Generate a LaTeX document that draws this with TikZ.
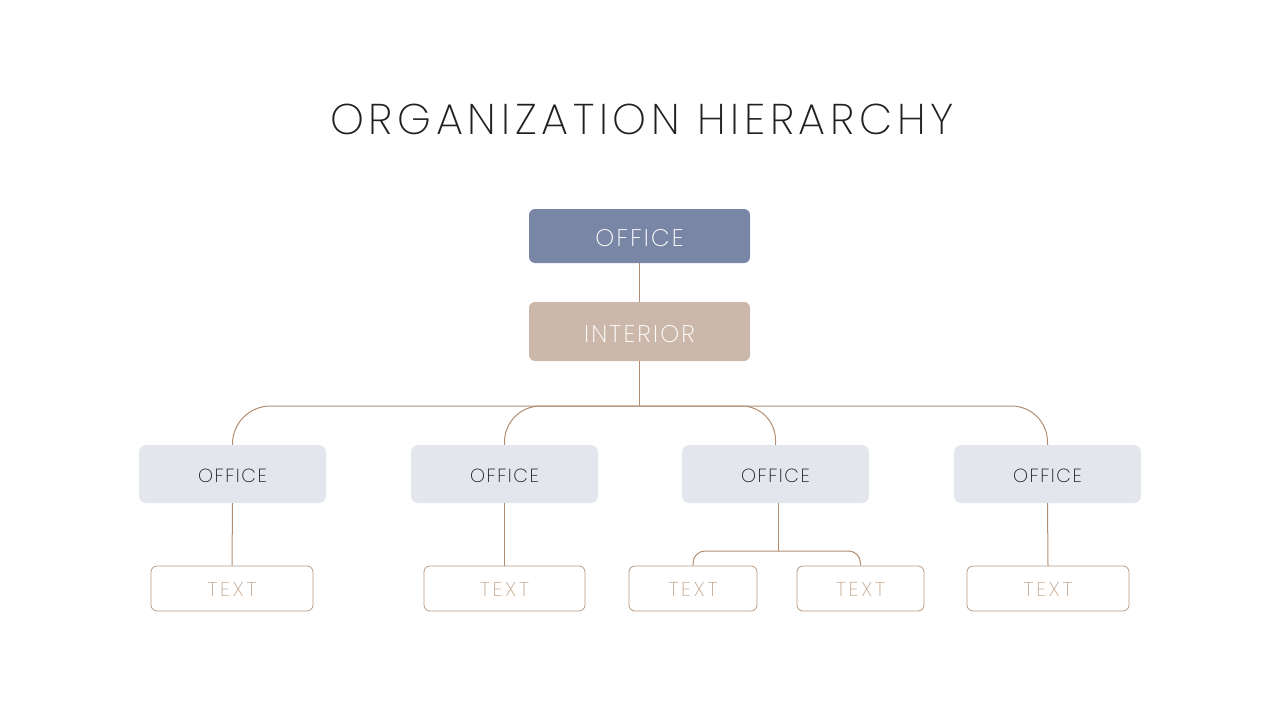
\documentclass[tikz,border=0pt]{standalone}
\usepackage{fontspec}
\setmainfont{Poppins Light}
\newfontfamily\titlefont{Poppins ExtraLight}
\definecolor{topfill}{HTML}{7A86A6}
\definecolor{intfill}{HTML}{CBB8AA}
\definecolor{midfill}{HTML}{E4E6EE}
\definecolor{linec}{HTML}{B08D72}
\definecolor{boxline}{HTML}{B89A80}
\definecolor{textc}{HTML}{C8AC95}
\definecolor{titlec}{HTML}{231F20}
\definecolor{darkt}{HTML}{1E1E1E}
\begin{document}
\begin{tikzpicture}[x=1pt,y=-1pt,
  topbox/.style={fill=topfill,draw=none,rounded corners=6pt,minimum width=221pt,minimum height=54pt,text=white,font=\titlefont\fontsize{24}{28}\selectfont\addfontfeature{LetterSpace=9},inner sep=0pt,text height=21pt,text depth=0pt},
  intbox/.style={fill=intfill,draw=none,rounded corners=6pt,minimum width=221pt,minimum height=59pt,text=white,font=\titlefont\fontsize{24}{28}\selectfont\addfontfeature{LetterSpace=9},inner sep=0pt,text height=21pt,text depth=0pt},
  midbox/.style={fill=midfill,draw=none,rounded corners=7pt,minimum width=187pt,minimum height=58pt,text=darkt,font=\titlefont\fontsize{19}{22}\selectfont\addfontfeature{LetterSpace=8},inner sep=0pt,text height=17.5pt,text depth=0pt},
  textbox/.style={fill=white,draw=boxline,line width=0.8pt,rounded corners=6pt,minimum height=45pt,text=textc,font=\titlefont\fontsize{20}{24}\selectfont\addfontfeature{LetterSpace=14},inner sep=0pt,text height=16pt,text depth=0pt},
  conn/.style={draw=linec,line width=1pt}]
\useasboundingbox (0,0) rectangle (1280,720);
\node[text=titlec,font=\titlefont\fontsize{43}{50}\selectfont\addfontfeature{LetterSpace=11},inner sep=0pt] (title) at (642,119) {ORGANIZATION HIERARCHY};
\node[topbox] (top) at (639.5,236) {OFFICE};
\node[intbox] (int) at (639.5,331.5) {INTERIOR};
\node[midbox] (o1) at (232.5,474) {OFFICE};
\node[midbox] (o2) at (504.5,474) {OFFICE};
\node[midbox] (o3) at (775.5,474) {OFFICE};
\node[midbox] (o4) at (1047.5,474) {OFFICE};
\node[textbox,minimum width=162pt] (t1) at (232,588.5) {TEXT};
\node[textbox,minimum width=161pt] (t2) at (504.5,588.5) {TEXT};
\node[textbox,minimum width=128pt] (t3) at (693,588.5) {TEXT};
\node[textbox,minimum width=127pt] (t4) at (860.5,588.5) {TEXT};
\node[textbox,minimum width=162pt] (t5) at (1048,588.5) {TEXT};
\coordinate (jc) at (639.5,406);
\coordinate (j3) at (778,551);
\draw[conn] (top.south) -- (int.north);
\draw[conn] (int.south) -- (jc);
\draw[conn,rounded corners=38pt] (jc) -| (o1.north);
\draw[conn,rounded corners=36pt] (jc) -| (o2.north);
\draw[conn,rounded corners=34pt] (jc) -| (o3.north);
\draw[conn,rounded corners=36pt] (jc) -| (o4.north);
\draw[conn] (o1.south) -- (t1.north);
\draw[conn] (o2.south) -- (t2.north);
\draw[conn] (o4.south) -- (t5.north);
\draw[conn] (o3.south -| j3) -- (j3);
\draw[conn,rounded corners=12pt] (j3) -| (t3.north);
\draw[conn,rounded corners=12pt] (j3) -| (t4.north);
\end{tikzpicture}
\end{document}
